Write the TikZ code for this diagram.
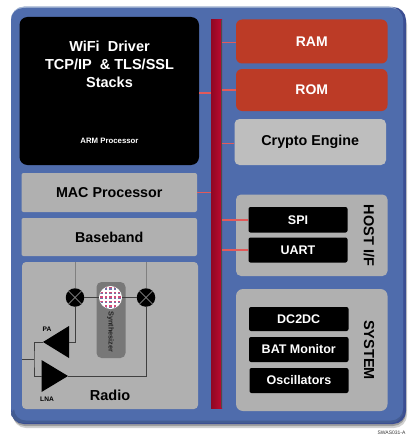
\documentclass[tikz,border=0pt]{standalone}
\usepackage{fontspec}
\setmainfont{Liberation Sans}
\definecolor{panelblue}{HTML}{4F6CAC}
\definecolor{paneldark}{HTML}{3B4E92}
\definecolor{panellight}{HTML}{A9BAD6}
\definecolor{blockgray}{HTML}{B0B0B0}
\definecolor{cryptogray}{HTML}{BEBEBE}
\definecolor{memred}{HTML}{BC3B26}
\definecolor{busred}{HTML}{BE0A30}
\definecolor{linkred}{HTML}{E25A5A}
\definecolor{synthgray}{HTML}{787878}
\tikzset{
  box/.style={rectangle,rounded corners=#1,inner sep=0pt},
  box/.default=4pt,
  graybox/.style={fill=blockgray,text=black,font=\fontsize{14.3}{16}\selectfont\bfseries},
  memory/.style={box=6pt,fill=memred,text=white,font=\fontsize{14}{16}\selectfont\bfseries},
  chip/.style={box=2pt,fill=black,text=white,font=\fontsize{12.5}{15}\selectfont\bfseries},
  link/.style={draw=linkred,line width=1.1pt},
  rfline/.style={draw=black!75,line width=0.9pt},
  feed/.style={draw=black!50,line width=0.9pt},
  mixer/.style={circle,fill=black,minimum size=18.5pt,inner sep=0pt},
  amp/.style={fill=black},
  small/.style={inner sep=0pt,font=\fontsize{6.6}{8}\selectfont\bfseries},
  sidelabel/.style={inner sep=0pt,rotate=-90,font=\fontsize{14.5}{16}\selectfont\bfseries}
}
\begin{document}
\begin{tikzpicture}[x=1pt,y=-1pt]
\useasboundingbox (0,0) rectangle (414,436);
% panel with shadow and bevel
\fill[black!18,rounded corners=13pt] (13,12) rectangle (407,428);
\fill[black!38,rounded corners=13pt] (12,10) rectangle (406,426);
\fill[paneldark,rounded corners=13pt] (11,7) rectangle (406,424);
\fill[panellight,rounded corners=13pt] (11,6.5) rectangle (402,30);
\fill[panelblue,rounded corners=12pt] (11,8) rectangle (403,420);
\fill[panelblue!85!black,rounded corners=12pt] (11,405) rectangle (403,423);
\fill[panelblue,rounded corners=12pt] (14,8) rectangle (403,420.5);
% bus
\node[left color=busred!75!black,right color=busred,minimum width=11pt,minimum height=388pt,inner sep=0pt] (bus) at (216.5,214) {};
\fill[black!70] (221,20) rectangle (222,408);
% left blocks
\node[box=8pt,fill=black,minimum width=179.5pt,minimum height=148pt] (cpu) at (109.25,91) {};
\node[align=center,text=white,inner sep=0pt,font=\fontsize{14.5}{18}\selectfont\bfseries] (cputext) at (109.5,64.5) {WiFi\ \ Driver\\TCP/IP\ \ \& TLS/SSL\\Stacks};
\node[small,text=white,font=\fontsize{7.8}{9}\selectfont\bfseries] (arm) at (109.5,141) {ARM Processor};
\node[box=2pt,graybox,minimum width=175.5pt,minimum height=39pt] (mac) at (109.25,192.5) {MAC Processor};
\node[box=2pt,graybox,minimum width=175.5pt,minimum height=38pt] (bb) at (109.25,237) {Baseband};
\node[box=4pt,graybox,minimum width=176pt,minimum height=147pt] (radio) at (110,335.5) {};
\node[inner sep=0pt,font=\fontsize{14.5}{16}\selectfont\bfseries] (radiotext) at (110,395) {Radio};
% right blocks
\node[memory,minimum width=151.5pt,minimum height=44pt] (ram) at (311.75,41.5) {RAM};
\node[memory,minimum width=151.5pt,minimum height=42pt] (rom) at (311.75,90) {ROM};
\node[box=5pt,graybox,fill=cryptogray,minimum width=151.5pt,minimum height=46pt] (crypto) at (310.25,142) {Crypto Engine};
\node[box=5pt,graybox,minimum width=151.5pt,minimum height=81.5pt] (host) at (311.75,235.25) {};
\node[chip,minimum width=99pt,minimum height=25.5pt] (spi) at (298,219.75) {SPI};
\node[chip,minimum width=99pt,minimum height=25pt] (uart) at (298,250) {UART};
\node[sidelabel] (hostlabel) at (369,235.5) {HOST I/F};
\node[box=7pt,graybox,minimum width=151.5pt,minimum height=122pt] (sys) at (311.75,350) {};
\node[chip,minimum width=99.5pt,minimum height=24pt] (dc) at (298.75,319) {DC2DC};
\node[chip,minimum width=99.5pt,minimum height=25pt] (bat) at (298.75,349.5) {BAT Monitor};
\node[chip,minimum width=99pt,minimum height=25pt] (osc) at (299,380.5) {Oscillators};
\node[sidelabel] (syslabel) at (369,350) {SYSTEM};
% links to the bus
\coordinate (ramport) at ([yshift=-1.2pt]ram.west);
\coordinate (cryptoport) at ([yshift=-1.7pt]crypto.west);
\coordinate (spiport) at ([yshift=-0.25pt]spi.west);
\coordinate (cpuport) at ([yshift=-2pt]cpu.east);
\draw[link] (bus.east |- ramport) -- (ramport);
\draw[link] (bus.east |- rom.west) -- (rom.west);
\draw[link] (bus.east |- cryptoport) -- (cryptoport);
\draw[link] (bus.east |- spiport) -- (spiport);
\draw[link] (bus.east |- uart.west) -- (uart.west);
\draw[link] (cpuport) -- (bus.west |- cpuport);
\draw[link] (mac.east) -- (bus.west |- mac.east);
% radio internals
\node[box=5pt,fill=synthgray,minimum width=29pt,minimum height=76pt] (synth) at (111,320) {};
\node[circle,fill=white,minimum size=23pt,inner sep=0pt] (lo) at (110.5,297.5) {};
\begin{scope}
\clip (lo) circle (11pt);
\foreach \i in {-2,...,2}{\foreach \j in {-2,...,2}{
  \pgfmathsetmacro{\px}{110.5+\i*4.6}
  \pgfmathsetmacro{\py}{297.5+\j*4.6}
  \fill[purple!70!white] (\px-1.3,\py-1.3) rectangle (\px+1.3,\py);
  \fill[blue!35!black!55] (\px-1.3,\py) rectangle (\px+1.3,\py+1.3);
}}
\end{scope}
\node[rotate=-90,inner sep=0pt,text=black!85,font=\fontsize{7.3}{9}\selectfont\bfseries] (synthtext) at (110.5,332) {Synthesizer};
\node[mixer] (m1) at (75,297.5) {};
\node[mixer] (m2) at (146,297.5) {};
\coordinate (split) at (34,359);
\coordinate (feedin) at (22,359);
\path[amp] (69,326) -- (69,358) -- (43,342) -- cycle;
\coordinate (paout) at (43,342);
\coordinate (pain) at (69,342);
\path[amp] (41.5,360) -- (41.5,392) -- (68,376) -- cycle;
\coordinate (lnain) at (41.5,376);
\coordinate (lnaout) at (68,376);
\draw[feed] (m1.north) -- (m1.north |- radio.north);
\draw[feed] (m2.north) -- (m2.north |- radio.north);
\draw[rfline] (m1.east) -- (lo.west) (lo.east) -- (m2.west);
\draw[rfline] (m1.south) |- (pain);
\draw[rfline] (m2.south) |- (lnaout);
\draw[rfline] (paout) -| (split) |- (lnain);
\draw[rfline] (feedin) -- (split);
\draw[black!55,line width=0.8pt] (m1.north west) -- (m1.south east) (m1.north east) -- (m1.south west);
\draw[black!55,line width=0.8pt] (m2.north west) -- (m2.south east) (m2.north east) -- (m2.south west);
\node[small] (pa) at (47,329) {PA};
\node[small] (lna) at (47,399.5) {LNA};
\node[inner sep=0pt,text=black!80,font=\fontsize{5}{6}\selectfont] (tag) at (391.5,433) {SWAS031-A};
\end{tikzpicture}
\end{document}
